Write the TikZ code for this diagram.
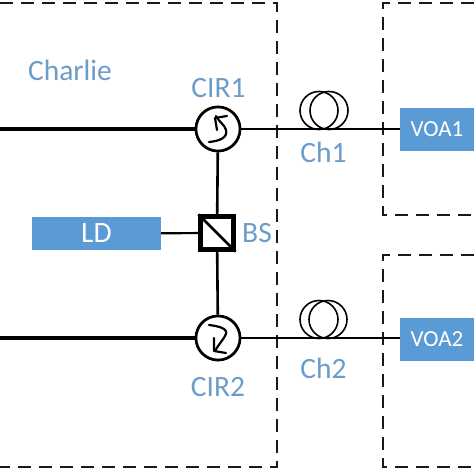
\documentclass[tikz,border=0pt]{standalone}
\usepackage{fontspec}
\setmainfont{Carlito}
\definecolor{lbl}{HTML}{6C9DC9}
\definecolor{boxb}{HTML}{5B9BD5}
\tikzset{
 x=1pt,y=-1pt,
 lab/.style={text=lbl,font=\fontsize{29.5}{30}\selectfont,inner sep=0pt},
 fill box/.style={fill=boxb,text=white,inner sep=0pt,anchor=center},
 dashbox/.style={draw=black!90,line width=2pt,dash pattern=on 13pt off 8pt},
 thick line/.style={line width=3.4pt,draw=black},
 thin line/.style={line width=2.2pt,draw=black},
 circ/.style={circle,draw=black,line width=2.6pt,fill=white,minimum size=44pt,inner sep=0pt},
 coil/.style={circle,draw=black,line width=1.6pt,minimum width=38pt,minimum height=37pt,inner sep=0pt},
 bsbox/.style={rectangle,draw=black,line width=4.2pt,fill=white,minimum size=33pt,inner sep=0pt},
}
\begin{document}
\begin{tikzpicture}
\useasboundingbox (0,0) rectangle (474,474);
\fill[white] (0,0) rectangle (474,474);
% enclosures
\draw[dashbox] (0,3) -- (277,3) -- (277,467) -- (0,467);
\draw[dashbox] (474,3) -- (383,3) -- (383,215) -- (474,215);
\draw[dashbox] (474,255) -- (383,255) -- (383,467) -- (474,467);
% components
\node[circ] (cir1) at (218,129) {};
\node[circ] (cir2) at (218,338) {};
\node[bsbox] (bs) at (217,233) {};
\node[fill box,minimum width=129pt,minimum height=33pt,font=\fontsize{29.5}{30}\selectfont] (ld) at (96.5,233.5) {LD};
\node[fill box,minimum width=74pt,minimum height=43pt,font=\fontsize{23}{23}\selectfont] (voa1) at (437,129.5) {VOA1};
\node[fill box,minimum width=74pt,minimum height=43pt,font=\fontsize{23}{23}\selectfont] (voa2) at (437,339) {VOA2};
\coordinate (in1) at (0,129);
\coordinate (in2) at (0,338);
% connectors
\draw[thick line] (in1) -- (cir1);
\draw[thick line] (in2) -- (cir2);
\draw[thin line] (cir1) -- (voa1.west |- cir1);
\draw[thin line] (cir2) -- (voa2.west |- cir2);
\draw[line width=2.6pt] (cir1) -- (bs);
\draw[line width=2.6pt] (bs) -- (cir2);
\draw[thin line] (ld) -- (bs);
% redraw symbols above connectors
\node[circ] at (218,129) {};
\node[circ] at (218,338) {};
\node[bsbox] at (217,233) {};
\draw[line width=2.8pt] (bs.north west) -- (bs.south east);
% circulator arrows
\draw[line width=2.2pt,line cap=round,line join=round] (209,142) .. controls (219,141) and (228,138) .. (226,130) .. controls (225,125) and (219,122) .. (216,116);
\draw[line width=2.2pt,line cap=round,line join=round] (227,116) -- (215,118) -- (217,130);
\draw[line width=2.2pt,line cap=round,line join=round] (209,325) .. controls (217,326) and (228,328) .. (226,334) .. controls (224,339) and (218,345) .. (215,351);
\draw[line width=2.2pt,line cap=round,line join=round] (214,338) -- (214,351) -- (226,353);
% fibre coils
\node[coil] (c1a) at (319,110.5) {};
\node[coil] (c1b) at (329,110.5) {};
\node[coil] (c2a) at (319,319.5) {};
\node[coil] (c2b) at (328,319.5) {};
% labels
\node[lab] (charlie) at (70,70) {Charlie};
\node[lab] (lcir1) at (218.5,88) {CIR1};
\node[lab] (lcir2) at (218,387) {CIR2};
\node[lab] (lbs) at (257,233) {BS};
\node[lab] (lch1) at (323.5,152) {Ch1};
\node[lab] (lch2) at (323.5,368) {Ch2};
\end{tikzpicture}
\end{document}
